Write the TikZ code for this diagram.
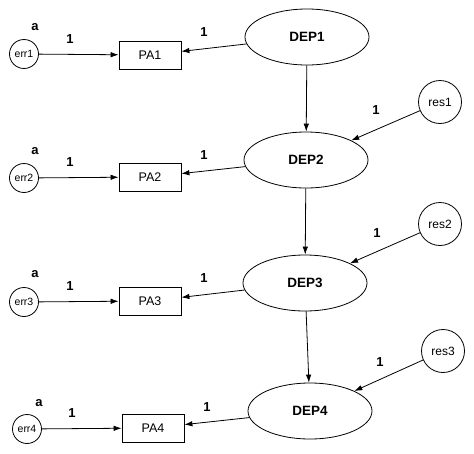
\documentclass[tikz,border=0pt]{standalone}
\usepackage{fontspec}
\setmainfont{Liberation Sans}
\usetikzlibrary{arrows.meta,positioning,shapes.geometric}

\begin{document}
\begin{tikzpicture}[
    x=1pt, y=-1pt,
    latent/.style={draw, ellipse, minimum width=124pt, minimum height=56pt, inner sep=0pt, line width=0.8pt, font=\fontsize{13.5}{14}\selectfont\bfseries},
    obs/.style={draw, rectangle, minimum width=62pt, minimum height=28pt, inner sep=0pt, line width=0.8pt, font=\fontsize{12.5}{13}\selectfont},
    errc/.style={draw, circle, minimum size=29pt, inner sep=0pt, line width=0.8pt, font=\fontsize{10.5}{11}\selectfont},
    resc/.style={draw, circle, minimum size=43pt, inner sep=0pt, line width=0.8pt, font=\fontsize{12}{12}\selectfont},
    wt/.style={font=\fontsize{13}{14}\selectfont\bfseries, inner sep=0pt},
    arr/.style={-{Latex[length=8pt,width=5.5pt]}, line width=0.8pt}
]
    \useasboundingbox (0,0) rectangle (474,453);

    % latent chain
    \node[latent] (dep1) at (307,37) {DEP1};
    \node[latent] (dep2) at (306,160) {DEP2};
    \node[latent] (dep3) at (305,283) {DEP3};
    \node[latent] (dep4) at (310,411) {DEP4};

    % indicators
    \node[obs] (pa1) at (150,55) {PA1};
    \node[obs] (pa2) at (150,177) {PA2};
    \node[obs] (pa3) at (150,301) {PA3};
    \node[obs] (pa4) at (153,428) {PA4};

    % errors
    \node[errc] (err1) at (24,54) {err1};
    \node[errc] (err2) at (24,178) {err2};
    \node[errc] (err3) at (24,302) {err3};
    \node[errc] (err4) at (27,429) {err4};

    % residuals
    \node[resc] (res1) at (440,102) {res1};
    \node[resc] (res2) at (440,224) {res2};
    \node[resc] (res3) at (443,351) {res3};

    \draw[arr] (dep1) -- (dep2);
    \draw[arr] (dep2) -- (dep3);
    \draw[arr] (dep3) -- (dep4);

    \draw[arr] (dep1) -- (pa1);
    \draw[arr] (dep2) -- (pa2);
    \draw[arr] (dep3) -- (pa3);
    \draw[arr] (dep4) -- (pa4);

    \draw[arr] (err1) -- (pa1);
    \draw[arr] (err2) -- (pa2);
    \draw[arr] (err3) -- (pa3);
    \draw[arr] (err4) -- (pa4);

    \draw[arr] (res1) -- (dep2);
    \draw[arr] (res2) -- (dep3);
    \draw[arr] (res3) -- (dep4);

    % weights and means
    \node[wt] at (35,27) {a};
    \node[wt] at (35,151) {a};
    \node[wt] at (35,274) {a};
    \node[wt] at (39,403) {a};

    \node[wt] at (70,39) {1};
    \node[wt] at (70,162) {1};
    \node[wt] at (70,286) {1};
    \node[wt] at (72,413) {1};

    \node[wt] at (204,32) {1};
    \node[wt] at (204,155) {1};
    \node[wt] at (204,278) {1};
    \node[wt] at (207,407) {1};

    \node[wt] at (376,110) {1};
    \node[wt] at (377,233) {1};
    \node[wt] at (380,362) {1};
\end{tikzpicture}
\end{document}
